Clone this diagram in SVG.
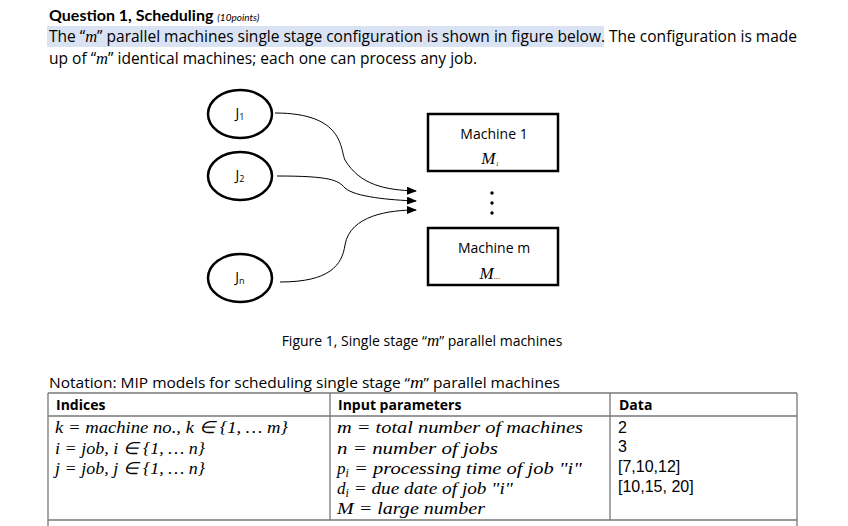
<svg xmlns="http://www.w3.org/2000/svg" width="848" height="526" viewBox="0 0 848 526">
<style>
.t{font-family:"Open Sans","Noto Sans",sans-serif;font-size:16px;fill:#000}
.d{font-family:"Open Sans","Noto Sans",sans-serif;font-size:14px;fill:#000}
.m{font-family:"Liberation Serif",serif;font-style:italic;font-size:17px;fill:#000}
.a{font-family:"Liberation Sans",sans-serif;font-size:16px;fill:#000}
.job{fill:#fff;stroke:#000;stroke-width:2.5}
.box{fill:#fff;stroke:#000;stroke-width:2.5}
.c{fill:none;stroke:#000;stroke-width:1}
.g{stroke:#777;stroke-width:1.3}
</style>
<defs><marker id="ar" markerWidth="10" markerHeight="8" refX="9" refY="4" orient="auto" markerUnits="userSpaceOnUse"><path d="M0,0 L10,4 L0,8 Z" fill="#000"/></marker></defs>
<rect width="848" height="526" fill="#fff"/>
<rect x="47" y="26" width="557" height="21" fill="#dae3f3"/>
<text x="49" y="21" class="t" style="font-weight:bold;font-family:Lato,'Open Sans',sans-serif;font-size:16px">Question 1, Scheduling <tspan style="font-weight:normal;font-style:italic;font-size:10px">(10points)</tspan></text>
<text x="49" y="42" class="t" textLength="748" lengthAdjust="spacingAndGlyphs">The “<tspan class="m">m</tspan>” parallel machines single stage configuration is shown in figure below. The configuration is made</text>
<text x="49" y="64" class="t" textLength="428" lengthAdjust="spacingAndGlyphs">up of “<tspan class="m">m</tspan>” identical machines; each one can process any job.</text>
<g id="connectors">
<path class="c" d="M275,113 C345,113 340,150 345,160 C360,185 385,190 416,191" marker-end="url(#ar)"/>
<path class="c" d="M277,176 C330,176 338,180 345,188 C355,197 390,200 416,201" marker-end="url(#ar)"/>
<path class="c" d="M280,282 C330,282 342,265 345,245 C350,215 390,210 416,210" marker-end="url(#ar)"/>
</g>
<g id="J1"><ellipse class="job" cx="240" cy="114" rx="32" ry="24"/><text x="240" y="118" class="d" text-anchor="middle" font-size="13">J<tspan font-size="9" dy="2">1</tspan></text></g>
<g id="J2"><ellipse class="job" cx="240" cy="176" rx="32" ry="24"/><text x="240" y="180" class="d" text-anchor="middle" font-size="13">J<tspan font-size="9" dy="2">2</tspan></text></g>
<g id="Jn"><ellipse class="job" cx="240" cy="278" rx="32" ry="24"/><text x="240" y="282" class="d" text-anchor="middle" font-size="13">J<tspan font-size="9" dy="2">n</tspan></text></g>
<g id="M1"><rect class="box" x="428" y="114" width="130" height="57"/><text x="494" y="139" class="d" text-anchor="middle">Machine 1</text><text x="490" y="164" class="m" font-size="16" text-anchor="middle">M<tspan font-size="9">₁</tspan></text></g>
<g id="dots"><circle cx="492" cy="193" r="1.7"/><circle cx="492" cy="203" r="1.7"/><circle cx="492" cy="213" r="1.7"/></g>
<g id="Mm"><rect class="box" x="428" y="228" width="130" height="57"/><text x="494" y="253" class="d" text-anchor="middle">Machine m</text><text x="490" y="279" class="m" font-size="16" text-anchor="middle">M<tspan font-size="9">...</tspan></text></g>
<text x="422" y="346" class="d" font-size="13" text-anchor="middle">Figure 1, Single stage “<tspan class="m" font-size="14">m</tspan>” parallel machines</text>
<text x="49" y="388" class="d" font-size="15" textLength="511" lengthAdjust="spacingAndGlyphs">Notation: MIP models for scheduling single stage “<tspan class="m">m</tspan>” parallel machines</text>
<g id="table">
<line class="g" x1="48" y1="393" x2="797" y2="393"/>
<line class="g" x1="48" y1="416" x2="797" y2="416"/>
<line class="g" x1="48" y1="520" x2="797" y2="520"/>
<line class="g" x1="48" y1="393" x2="48" y2="526"/>
<line class="g" x1="330" y1="393" x2="330" y2="520"/>
<line class="g" x1="610" y1="393" x2="610" y2="520"/>
<line class="g" x1="797" y1="393" x2="797" y2="526"/>
<text x="56" y="410" class="d" font-weight="bold">Indices</text>
<text x="338" y="410" class="d" font-weight="bold">Input parameters</text>
<text x="619" y="410" class="d" font-weight="bold" font-family="Liberation Sans">Data</text>
<g font-size="19">
<text class="m" font-size="19" x="55" y="433" textLength="233" lengthAdjust="spacingAndGlyphs">k = machine no., k ∈ {1, … m}</text>
<text class="m" font-size="19" x="55" y="454" textLength="150" lengthAdjust="spacingAndGlyphs">i = job, i ∈ {1, … n}</text>
<text class="m" font-size="19" x="55" y="474" textLength="150" lengthAdjust="spacingAndGlyphs">j = job, j ∈ {1, … n}</text>
<text class="m" font-size="19" x="337" y="433" textLength="246" lengthAdjust="spacingAndGlyphs">m = total number of machines</text>
<text class="m" font-size="19" x="337" y="454" textLength="161" lengthAdjust="spacingAndGlyphs">n  = number of jobs</text>
<text class="m" font-size="19" x="337" y="474">p<tspan font-size="12" dy="3">i</tspan><tspan dy="-3" textLength="233" lengthAdjust="spacingAndGlyphs"> = processing time of job "i"</tspan></text>
<text class="m" font-size="19" x="337" y="494">d<tspan font-size="12" dy="3">i</tspan><tspan dy="-3" textLength="164" lengthAdjust="spacingAndGlyphs"> = due date of job "i"</tspan></text>
<text class="m" font-size="19" x="337" y="514" textLength="148" lengthAdjust="spacingAndGlyphs">M = large number</text>
</g>
<text class="a" x="618" y="433">2</text>
<text class="a" x="618" y="452">3</text>
<text class="a" x="618" y="472">[7,10,12]</text>
<text class="a" x="618" y="492">[10,15, 20]</text>
</g>
</svg>
